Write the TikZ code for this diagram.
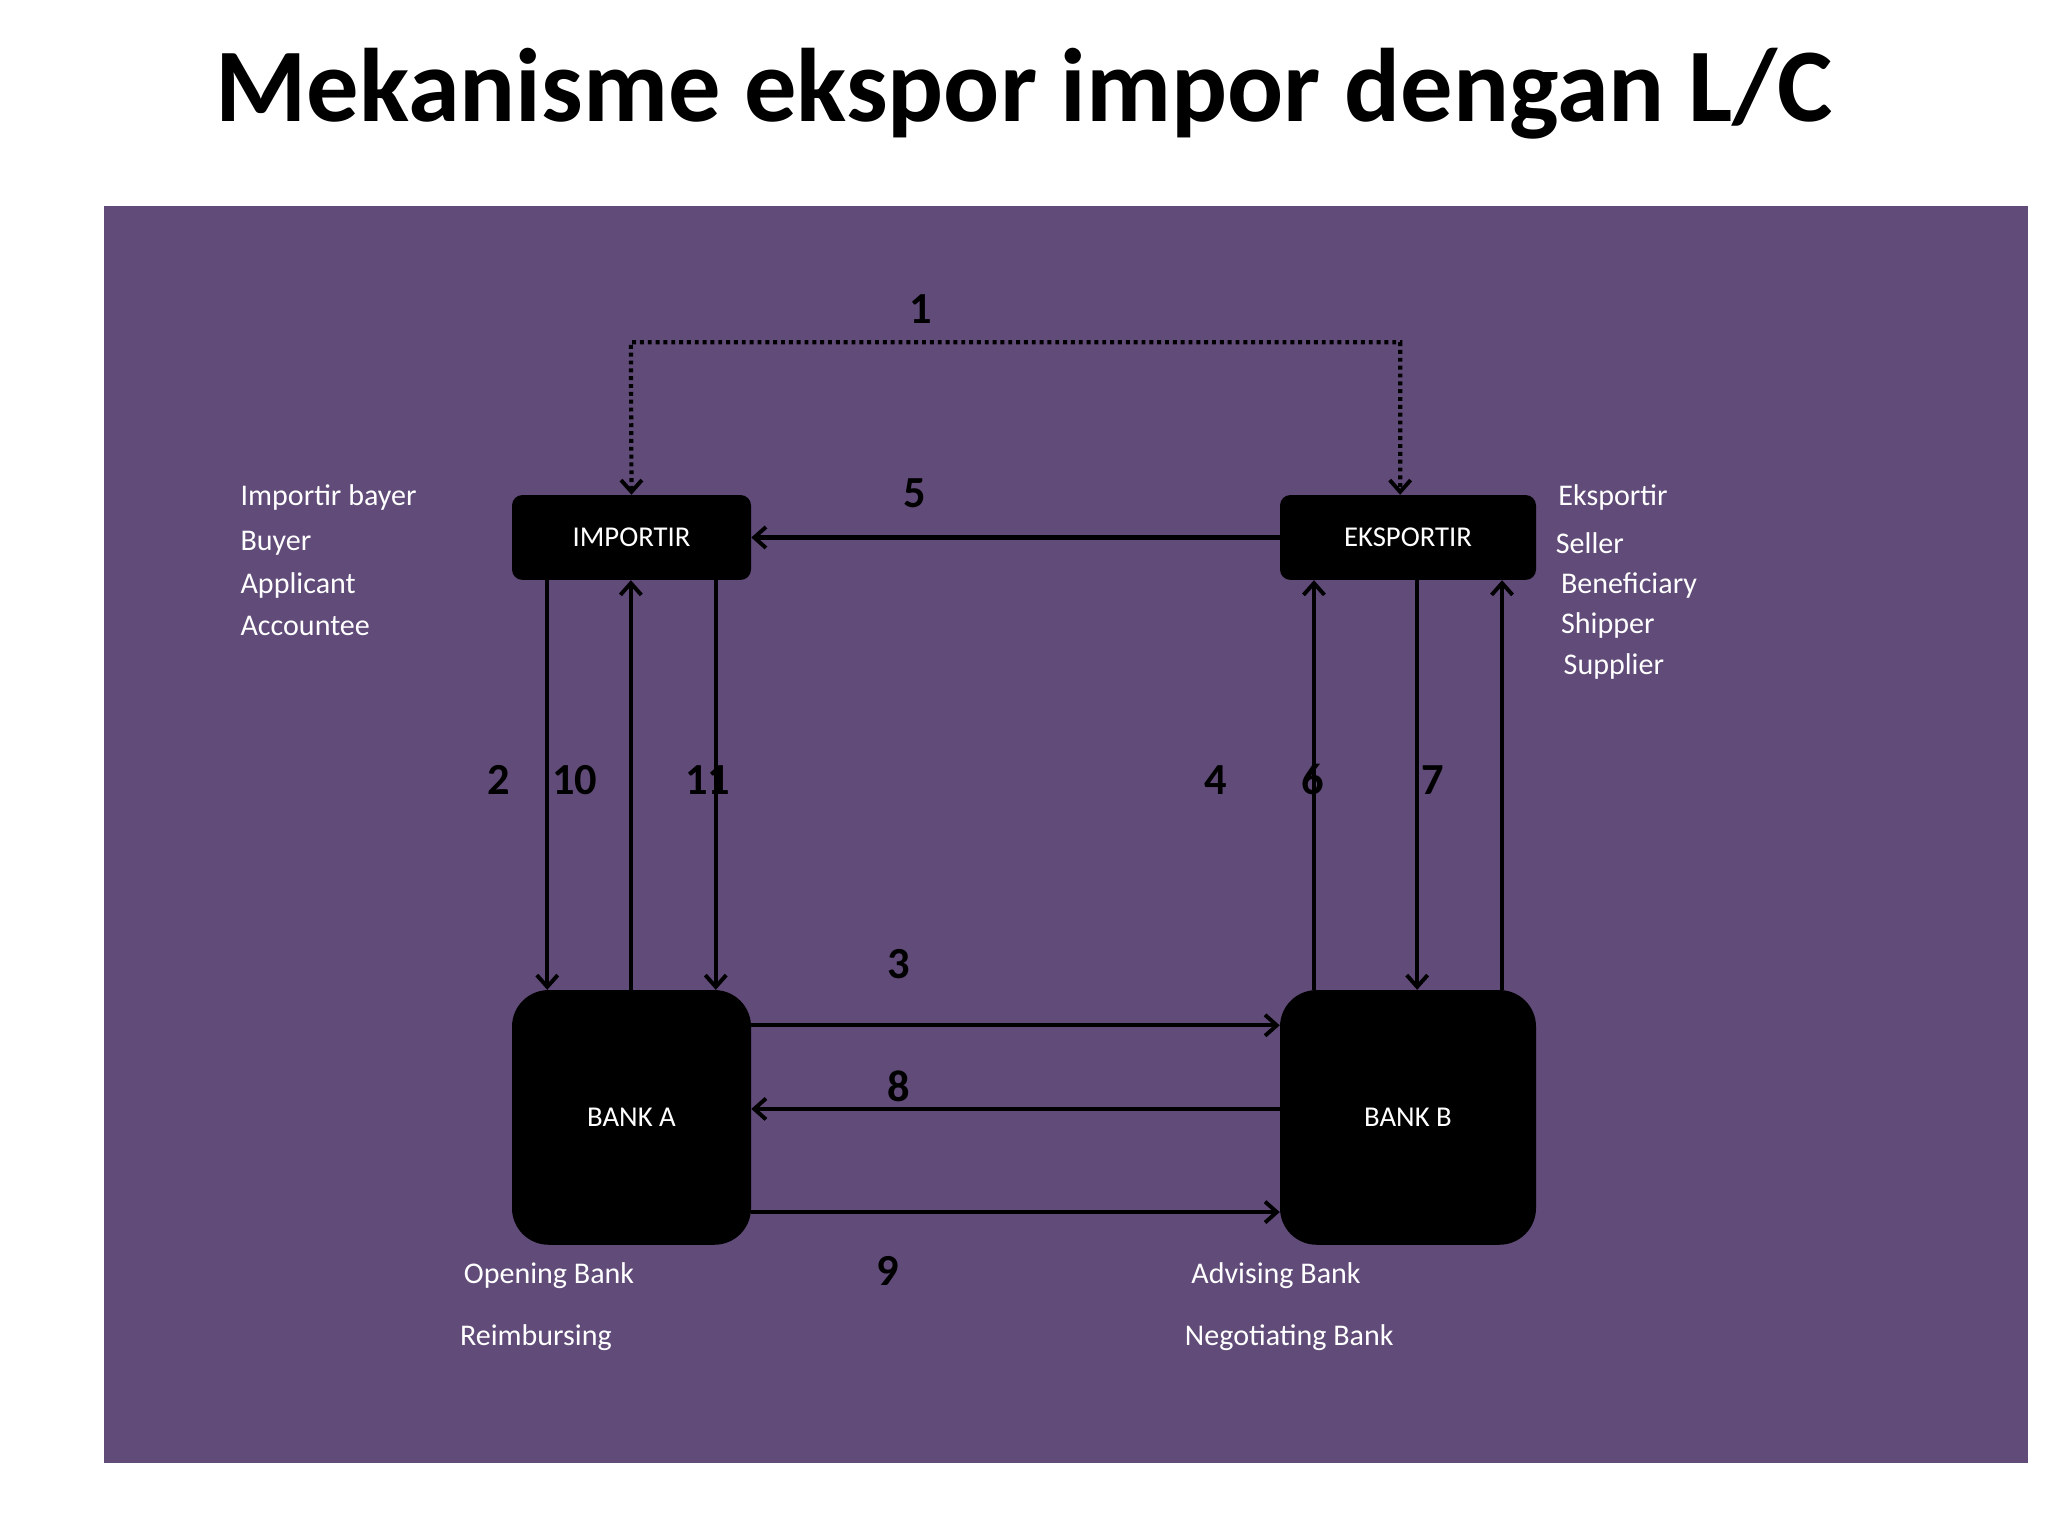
\documentclass[tikz,border=0pt]{standalone}
\usepackage{fontspec}
\setmainfont{Carlito}
\usetikzlibrary{arrows.meta}
\definecolor{bgp}{HTML}{614B79}
\begin{document}
\begin{tikzpicture}[x=1pt,y=-1pt,
  box/.style={fill=black,text=white,rounded corners=8pt,inner sep=0pt,font=\fontsize{22}{26}\selectfont},
  bank/.style={fill=black,text=white,rounded corners=28pt,inner sep=0pt,font=\fontsize{22}{26}\selectfont},
  arr/.style={line width=3.2pt,-{Straight Barb[length=9pt,width=16pt,line width=3pt]}},
  num/.style={font=\bfseries\fontsize{34}{38}\selectfont},
  side/.style={text=white,anchor=west,inner sep=0pt,font=\fontsize{23}{27}\selectfont}]
\useasboundingbox (0,0) rectangle (1568,1176);
\fill[white] (0,0) rectangle (1568,1176);
\node[font=\bfseries\fontsize{80}{90}\selectfont] (title) at (784,72) {Mekanisme ekspor impor dengan L/C};
\fill[bgp] (80,158) rectangle (1553,1120);
\node[box,minimum width=183pt,minimum height=65pt] (imp) at (483.5,411.5) {IMPORTIR};
\node[box,minimum width=196pt,minimum height=65pt] (eks) at (1078,411.5) {EKSPORTIR};
\node[bank,minimum width=183pt,minimum height=195pt] (ba) at (483.5,855.5) {BANK A};
\node[bank,minimum width=196pt,minimum height=195pt] (bb) at (1078,855.5) {BANK B};
\coordinate (d1) at (483,262); \coordinate (d2) at (1072,262);
\draw[arr,dashed,{Straight Barb[length=9pt,width=16pt,line width=3pt]}-{Straight Barb[length=9pt,width=16pt,line width=3pt]}] (imp.north) -- (d1) -- (d2) -- (eks.north west-|d2);
\draw[arr] (eks.west) -- (imp.east);
\draw[arr] (imp.south-|419,0) -- (ba.north-|419,0);
\draw[arr] (ba.north-|483,0) -- (imp.south-|483,0);
\draw[arr] (imp.south-|548,0) -- (ba.north-|548,0);
\draw[arr] (bb.north-|1006,0) -- (eks.south-|1006,0);
\draw[arr] (eks.south-|1085,0) -- (bb.north-|1085,0);
\draw[arr] (bb.north-|1150,0) -- (eks.south-|1150,0);
\draw[arr] (ba.east|-0,785) -- (bb.west|-0,785);
\draw[arr] (bb.west|-0,849) -- (ba.east|-0,849);
\draw[arr] (ba.east|-0,928) -- (bb.west|-0,928);
\node[num] (n1) at (705,237) {1};
\node[num] (n5) at (700,378) {5};
\node[num] (n2) at (382,597) {2};
\node[num] (n10) at (440,597) {10};
\node[num] (n11) at (542,597) {11};
\node[num] (n4) at (931,597) {4};
\node[num] (n6) at (1005,597) {6};
\node[num] (n7) at (1097,597) {7};
\node[num] (n3) at (688,738) {3};
\node[num] (n8) at (688,832) {8};
\node[num] (n9) at (680,973) {9};
\node[side] (l1) at (184,381) {Importir bayer};
\node[side] (l2) at (184,416) {Buyer};
\node[side] (l3) at (184,448) {Applicant};
\node[side] (l4) at (184,479) {Accountee};
\node[side] (r1) at (1193,381) {Eksportir};
\node[side] (r2) at (1191,416) {Seller};
\node[side] (r3) at (1195,448) {Beneficiary};
\node[side] (r4) at (1195,479) {Shipper};
\node[side] (r5) at (1197,510) {Supplier};
\node[side] (b1) at (355,977) {Opening Bank};
\node[side] (b2) at (352,1024) {Reimbursing};
\node[side] (b3) at (912,977) {Advising Bank};
\node[side] (b4) at (907,1024) {Negotiating Bank};
\end{tikzpicture}
\end{document}
